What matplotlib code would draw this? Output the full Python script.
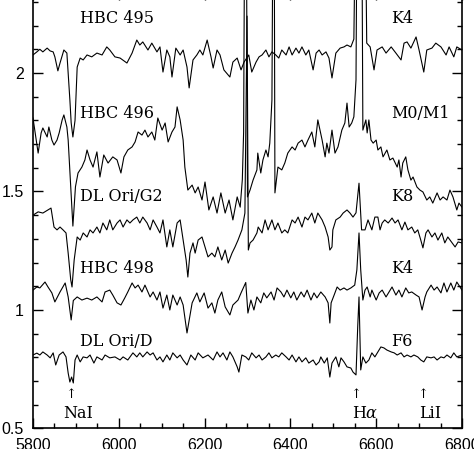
"""Stacked optical spectra (NaI, H-alpha, LiI region) for five stars."""

import matplotlib
matplotlib.use("Agg")
import matplotlib.pyplot as plt
from matplotlib.ticker import MultipleLocator, FormatStrFormatter

# ---------------------------------------------------------------------------
# Data: (wavelength [A], normalised flux + offset)
# ---------------------------------------------------------------------------

HBC495 = [
    (5800, 2.076), (5809, 2.089), (5816, 2.100), (5823, 2.089), (5833, 2.105), (5840, 2.093),
    (5847, 2.089), (5851, 2.068), (5858, 2.009), (5863, 2.042), (5872, 2.097), (5879, 2.084),
    (5886, 1.886), (5889, 1.790), (5893, 1.730), (5898, 1.800), (5903, 2.025), (5910, 2.063),
    (5917, 2.055), (5926, 2.076), (5937, 2.068), (5949, 2.084), (5961, 2.076), (5972, 2.110),
    (5979, 2.097), (5991, 2.068), (6003, 2.063), (6019, 2.042), (6031, 2.084), (6042, 2.139),
    (6049, 2.118), (6056, 2.131), (6068, 2.097), (6077, 2.126), (6089, 2.089), (6096, 2.110),
    (6103, 2.004), (6112, 2.097), (6119, 2.068), (6124, 1.983), (6133, 2.105), (6143, 2.076),
    (6150, 2.097), (6159, 2.025), (6164, 1.937), (6173, 2.055), (6182, 2.076), (6189, 2.097),
    (6196, 2.076), (6206, 2.139), (6215, 2.068), (6220, 2.021), (6229, 2.097), (6236, 2.076),
    (6245, 2.013), (6259, 1.983), (6266, 2.046), (6276, 2.063), (6285, 2.013), (6292, 2.046),
    (6303, 2.076), (6310, 2.004), (6320, 2.046), (6327, 2.068), (6334, 2.076), (6343, 2.097),
    (6350, 2.068), (6357, 2.089), (6366, 2.076), (6373, 2.063), (6380, 2.097), (6390, 2.076),
    (6397, 2.110), (6404, 2.076), (6413, 2.105), (6420, 2.084), (6427, 2.110), (6436, 2.076),
    (6443, 2.097), (6453, 2.013), (6460, 2.084), (6467, 2.097), (6474, 2.076), (6483, 2.089),
    (6490, 2.063), (6497, 1.979), (6506, 2.084), (6516, 2.105), (6525, 2.110), (6532, 2.118),
    (6541, 2.110), (6548, 2.143), (6554, 3.000), (6573, 3.000), (6578, 2.126), (6586, 2.110),
    (6595, 2.013), (6602, 2.097), (6614, 2.110), (6623, 2.084), (6635, 2.110), (6646, 2.084),
    (6658, 2.055), (6665, 2.126), (6672, 2.131), (6681, 2.105), (6693, 2.152), (6700, 2.097),
    (6711, 2.004), (6718, 2.097), (6730, 2.105), (6739, 2.126), (6751, 2.110), (6763, 2.076),
    (6770, 2.110), (6781, 2.068), (6788, 2.110), (6800, 2.097),
]

HBC496 = [
    (5800, 1.810), (5805, 1.747), (5812, 1.662), (5819, 1.747), (5823, 1.768), (5833, 1.730),
    (5837, 1.772), (5844, 1.717), (5849, 1.696), (5856, 1.717), (5861, 1.747), (5868, 1.802),
    (5872, 1.823), (5879, 1.772), (5882, 1.717), (5888, 1.520), (5893, 1.354), (5899, 1.520),
    (5905, 1.578), (5914, 1.603), (5921, 1.633), (5926, 1.675), (5933, 1.633), (5940, 1.603),
    (5949, 1.667), (5956, 1.561), (5965, 1.654), (5975, 1.620), (5986, 1.646), (5996, 1.633),
    (6005, 1.578), (6012, 1.646), (6021, 1.675), (6031, 1.688), (6038, 1.709), (6045, 1.751),
    (6054, 1.738), (6061, 1.759), (6068, 1.730), (6077, 1.751), (6084, 1.717), (6091, 1.810),
    (6101, 1.759), (6108, 1.789), (6115, 1.709), (6124, 1.751), (6131, 1.772), (6136, 1.857),
    (6143, 1.802), (6150, 1.717), (6154, 1.603), (6161, 1.506), (6171, 1.527), (6178, 1.494),
    (6185, 1.519), (6194, 1.464), (6201, 1.540), (6210, 1.422), (6220, 1.477), (6229, 1.409),
    (6238, 1.494), (6248, 1.409), (6257, 1.464), (6266, 1.380), (6276, 1.477), (6283, 1.434),
    (6288, 1.550), (6291, 1.750), (6294, 2.900), (6297, 2.900), (6300, 1.477), (6306, 1.506),
    (6313, 1.548), (6322, 1.591), (6324, 1.662), (6331, 1.578), (6336, 1.633), (6343, 1.675),
    (6348, 1.646), (6352, 1.704), (6357, 1.886), (6360, 2.900), (6362, 2.900), (6364, 1.494),
    (6371, 1.603), (6380, 1.591), (6387, 1.620), (6394, 1.662), (6404, 1.688), (6411, 1.675),
    (6418, 1.704), (6427, 1.717), (6434, 1.688), (6441, 1.717), (6450, 1.751), (6457, 1.688),
    (6464, 1.802), (6474, 1.717), (6481, 1.646), (6485, 1.704), (6490, 1.662), (6497, 1.759),
    (6504, 1.662), (6511, 1.688), (6520, 1.759), (6527, 1.789), (6532, 1.873), (6537, 1.772),
    (6543, 1.789), (6548, 1.815), (6553, 1.971), (6556, 2.900), (6566, 2.900), (6569, 1.759),
    (6576, 1.802), (6579, 1.747), (6583, 1.802), (6588, 1.717), (6593, 1.704), (6600, 1.717),
    (6604, 1.675), (6611, 1.688), (6616, 1.646), (6625, 1.675), (6632, 1.633), (6639, 1.641),
    (6649, 1.603), (6653, 1.633), (6658, 1.561), (6662, 1.620), (6669, 1.646), (6674, 1.591),
    (6681, 1.548), (6686, 1.561), (6695, 1.519), (6702, 1.506), (6709, 1.498), (6718, 1.464),
    (6725, 1.477), (6732, 1.451), (6742, 1.494), (6749, 1.464), (6756, 1.477), (6765, 1.464),
    (6772, 1.506), (6779, 1.477), (6788, 1.422), (6793, 1.451), (6800, 1.434),
]

DLORI_G2 = [
    (5800, 1.400), (5812, 1.414), (5823, 1.409), (5835, 1.422), (5842, 1.430), (5849, 1.350),
    (5856, 1.338), (5863, 1.350), (5870, 1.338), (5877, 1.325), (5882, 1.240), (5888, 1.127),
    (5891, 1.097), (5896, 1.211), (5903, 1.308), (5910, 1.295), (5917, 1.325), (5926, 1.308),
    (5933, 1.338), (5940, 1.325), (5949, 1.350), (5956, 1.325), (5963, 1.367), (5972, 1.338),
    (5979, 1.380), (5986, 1.338), (5996, 1.367), (6003, 1.380), (6010, 1.350), (6019, 1.380),
    (6026, 1.367), (6033, 1.380), (6042, 1.392), (6049, 1.367), (6056, 1.392), (6066, 1.367),
    (6073, 1.338), (6080, 1.380), (6089, 1.350), (6096, 1.325), (6103, 1.380), (6112, 1.266),
    (6119, 1.338), (6126, 1.266), (6136, 1.367), (6143, 1.380), (6150, 1.295), (6157, 1.211),
    (6161, 1.139), (6166, 1.240), (6173, 1.283), (6178, 1.240), (6185, 1.295), (6194, 1.308),
    (6201, 1.266), (6208, 1.224), (6217, 1.240), (6224, 1.224), (6231, 1.266), (6240, 1.211),
    (6248, 1.253), (6255, 1.198), (6264, 1.240), (6271, 1.266), (6278, 1.295), (6287, 1.338),
    (6294, 1.409), (6299, 2.240), (6302, 1.253), (6306, 1.283), (6313, 1.295), (6322, 1.325),
    (6325, 1.350), (6334, 1.325), (6341, 1.380), (6348, 1.338), (6357, 1.380), (6364, 1.338),
    (6371, 1.367), (6380, 1.325), (6387, 1.338), (6394, 1.325), (6404, 1.380), (6411, 1.367),
    (6418, 1.392), (6427, 1.350), (6434, 1.392), (6441, 1.380), (6450, 1.409), (6457, 1.367),
    (6464, 1.409), (6474, 1.380), (6481, 1.350), (6488, 1.308), (6492, 1.253), (6497, 1.266),
    (6499, 1.338), (6506, 1.380), (6516, 1.392), (6523, 1.409), (6532, 1.422), (6539, 1.409),
    (6546, 1.392), (6553, 1.410), (6560, 1.535), (6566, 1.338), (6574, 1.338), (6581, 1.380),
    (6590, 1.338), (6597, 1.392), (6604, 1.392), (6609, 1.338), (6614, 1.367), (6620, 1.380),
    (6628, 1.367), (6637, 1.388), (6644, 1.367), (6651, 1.380), (6660, 1.338), (6667, 1.371),
    (6674, 1.338), (6683, 1.350), (6690, 1.325), (6697, 1.338), (6704, 1.295), (6709, 1.262),
    (6716, 1.325), (6721, 1.338), (6730, 1.308), (6737, 1.325), (6744, 1.295), (6753, 1.325),
    (6760, 1.283), (6767, 1.308), (6777, 1.283), (6784, 1.266), (6791, 1.287), (6800, 1.283),
]

HBC498 = [
    (5800, 1.084), (5809, 1.097), (5816, 1.093), (5828, 1.118), (5835, 1.097), (5844, 1.072),
    (5851, 1.034), (5863, 1.076), (5875, 1.114), (5882, 1.055), (5889, 0.958), (5894, 1.040),
    (5903, 1.055), (5914, 1.042), (5926, 1.050), (5937, 1.042), (5949, 1.055), (5961, 1.034),
    (5968, 1.076), (5979, 1.084), (5986, 1.063), (5996, 1.030), (6005, 1.021), (6014, 1.051),
    (6021, 1.076), (6031, 1.114), (6038, 1.093), (6045, 1.105), (6054, 1.076), (6061, 1.105),
    (6073, 1.055), (6080, 1.076), (6089, 1.042), (6096, 1.076), (6103, 1.008), (6112, 1.063),
    (6119, 1.000), (6126, 1.063), (6136, 1.021), (6143, 1.055), (6150, 1.021), (6159, 0.903),
    (6171, 1.030), (6182, 1.072), (6189, 1.034), (6199, 1.072), (6208, 1.008), (6217, 1.030),
    (6224, 0.987), (6231, 1.042), (6240, 1.076), (6248, 1.013), (6259, 0.979), (6266, 1.021),
    (6278, 1.042), (6285, 1.072), (6296, 1.116), (6301, 0.987), (6308, 1.042), (6315, 1.000),
    (6322, 1.055), (6331, 1.030), (6338, 1.072), (6345, 1.051), (6355, 1.076), (6362, 1.042),
    (6369, 1.093), (6378, 1.076), (6385, 1.055), (6392, 1.084), (6401, 1.051), (6408, 1.076),
    (6415, 1.042), (6425, 1.076), (6432, 1.055), (6439, 1.084), (6448, 1.042), (6455, 1.072),
    (6462, 1.051), (6471, 1.076), (6481, 1.055), (6488, 1.030), (6492, 0.945), (6495, 1.030),
    (6502, 1.063), (6509, 1.097), (6516, 1.084), (6525, 1.093), (6532, 1.084), (6541, 1.093),
    (6550, 1.105), (6555, 1.169), (6560, 1.325), (6564, 1.169), (6569, 1.042), (6574, 1.084),
    (6579, 1.097), (6586, 1.055), (6590, 1.084), (6600, 1.042), (6607, 1.072), (6614, 1.084),
    (6623, 1.055), (6630, 1.076), (6637, 1.097), (6646, 1.063), (6653, 1.084), (6660, 1.055),
    (6669, 1.093), (6676, 1.072), (6683, 1.076), (6693, 1.063), (6700, 1.055), (6707, 1.000),
    (6714, 1.055), (6718, 1.076), (6728, 1.105), (6735, 1.084), (6742, 1.097), (6751, 1.072),
    (6758, 1.114), (6765, 1.076), (6774, 1.114), (6781, 1.084), (6788, 1.118), (6800, 1.084),
]

DLORI_D = [
    (5800, 0.810), (5809, 0.818), (5816, 0.810), (5823, 0.823), (5833, 0.810), (5840, 0.798),
    (5847, 0.819), (5853, 0.768), (5861, 0.810), (5870, 0.823), (5877, 0.802), (5882, 0.734),
    (5886, 0.696), (5890, 0.717), (5894, 0.692), (5898, 0.789), (5903, 0.810), (5910, 0.781),
    (5917, 0.802), (5926, 0.798), (5933, 0.810), (5942, 0.776), (5949, 0.802), (5961, 0.789),
    (5968, 0.810), (5979, 0.798), (5991, 0.802), (6003, 0.789), (6010, 0.802), (6021, 0.789),
    (6033, 0.819), (6042, 0.802), (6049, 0.819), (6056, 0.802), (6066, 0.823), (6073, 0.810),
    (6080, 0.819), (6089, 0.789), (6096, 0.802), (6103, 0.781), (6112, 0.810), (6119, 0.789),
    (6126, 0.819), (6136, 0.798), (6143, 0.810), (6150, 0.789), (6159, 0.768), (6168, 0.810),
    (6178, 0.789), (6185, 0.819), (6196, 0.798), (6208, 0.810), (6220, 0.789), (6229, 0.823),
    (6236, 0.802), (6243, 0.819), (6252, 0.789), (6259, 0.823), (6266, 0.802), (6276, 0.760),
    (6280, 0.738), (6287, 0.810), (6296, 0.802), (6303, 0.789), (6310, 0.819), (6320, 0.798),
    (6327, 0.810), (6334, 0.789), (6343, 0.802), (6350, 0.819), (6357, 0.798), (6366, 0.810),
    (6373, 0.802), (6380, 0.819), (6390, 0.802), (6397, 0.789), (6404, 0.810), (6413, 0.781),
    (6420, 0.802), (6427, 0.781), (6436, 0.798), (6443, 0.776), (6453, 0.789), (6460, 0.768),
    (6467, 0.781), (6471, 0.802), (6479, 0.776), (6486, 0.798), (6492, 0.717), (6497, 0.776),
    (6506, 0.802), (6513, 0.760), (6518, 0.798), (6525, 0.781), (6532, 0.760), (6541, 0.755),
    (6546, 0.738), (6553, 0.726), (6557, 0.930), (6560, 1.055), (6564, 0.747), (6569, 0.802),
    (6576, 0.776), (6583, 0.789), (6590, 0.819), (6597, 0.802), (6604, 0.823), (6611, 0.844),
    (6618, 0.840), (6625, 0.831), (6635, 0.823), (6642, 0.819), (6649, 0.810), (6658, 0.819),
    (6665, 0.802), (6672, 0.810), (6681, 0.802), (6688, 0.810), (6697, 0.802), (6704, 0.789),
    (6711, 0.781), (6718, 0.802), (6728, 0.798), (6735, 0.802), (6742, 0.789), (6751, 0.802),
    (6758, 0.798), (6765, 0.810), (6774, 0.798), (6781, 0.819), (6788, 0.802), (6800, 0.810),
]

SPECTRA = [HBC495, HBC496, DLORI_G2, HBC498, DLORI_D]

# star names (left) and spectral types (right) with the flux level of each label
STAR_NAMES = ["HBC 495", "HBC 496", "DL Ori/G2", "HBC 498", "DL Ori/D"]
SPEC_TYPES = ["K4", "M0/M1", "K8", "K4", "F6"]
LABEL_Y    = [2.228, 1.827, 1.479, 1.173, 0.869]

# line identifications: (text, text-left wavelength, arrow wavelength)
LINE_IDS = [("NaI", 5870, 5889), (r"H$\alpha$", 6544, 6553), ("LiI", 6700, 6709)]

# ---------------------------------------------------------------------------
# Plot
# ---------------------------------------------------------------------------

plt.rcParams["mathtext.fontset"] = "dejavuserif"
SERIF = ["DejaVu Serif", "DejaVu Sans"]

fig = plt.figure(figsize=(4.74, 4.49), dpi=100)
ax = fig.add_axes([0.0696, 0.0457, 0.905, 0.9765])

for spec in SPECTRA:
    wl, fx = zip(*spec)
    ax.plot(wl, fx, color="black", linewidth=0.8)

for name, stype, ylab in zip(STAR_NAMES, SPEC_TYPES, LABEL_Y):
    ax.text(5910, ylab, name, family=SERIF, fontsize=11.5, va="center", ha="left")
    ax.text(6634, ylab, stype, family=SERIF, fontsize=11.5, va="center", ha="left")

for label, x_text, x_arrow in LINE_IDS:
    ax.text(x_arrow, 0.643, "\u2191", family=SERIF, fontsize=9.5, va="center", ha="center")
    ax.text(x_text, 0.565, label, family=SERIF, fontsize=11.5, va="center", ha="left")

ax.set_xlim(5800, 6800)
ax.set_ylim(0.5, 2.35)

ax.xaxis.set_major_locator(MultipleLocator(200))
ax.xaxis.set_minor_locator(MultipleLocator(50))
ax.yaxis.set_major_locator(MultipleLocator(0.5))
ax.yaxis.set_minor_locator(MultipleLocator(0.1))
ax.yaxis.set_major_formatter(FormatStrFormatter("%g"))

ax.tick_params(which="both", direction="in", top=True, right=True, width=1.0)
ax.tick_params(which="major", length=7)
ax.tick_params(which="minor", length=3.5)
ax.tick_params(axis="y", pad=6.5)
ax.tick_params(axis="x", pad=6.5)
for lab in ax.get_xticklabels() + ax.get_yticklabels():
    lab.set_family("Liberation Sans")
    lab.set_fontsize(11.5)
for spine in ax.spines.values():
    spine.set_linewidth(1.2)

fig.savefig("out.png", dpi=100)
